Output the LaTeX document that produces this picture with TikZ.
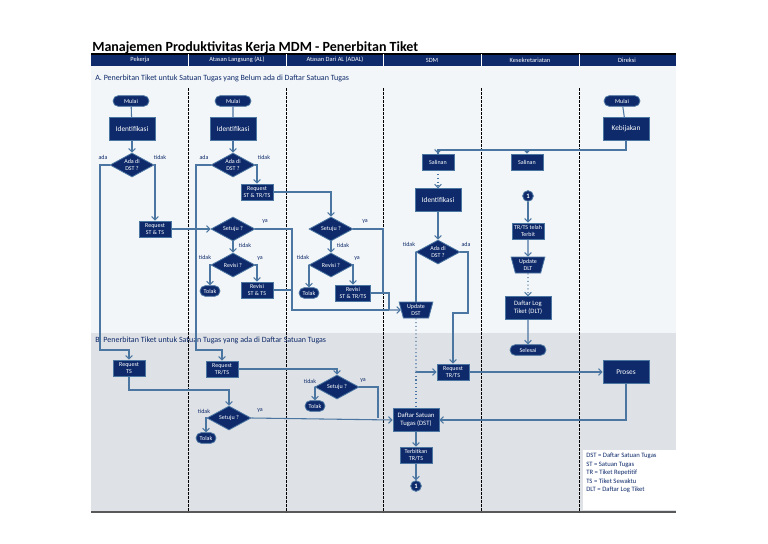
\documentclass[tikz,border=0pt]{standalone}
\usepackage{fontspec}
\setmainfont{Carlito}
\usetikzlibrary{shapes.geometric,shapes.misc,arrows.meta}
\definecolor{navy}{HTML}{0E2A6B}
\definecolor{ln}{HTML}{4C76A2}
\definecolor{bga}{HTML}{F3F6F8}
\definecolor{bgb}{HTML}{DEE1E5}
\begin{document}
\begin{tikzpicture}[x=0.75pt,y=-0.75pt,
 box/.style={draw=ln,fill=navy,text=white,font=\fontsize{4.5}{5}\selectfont,align=center,inner sep=1pt,line width=0.6pt},
 proc/.style={box,minimum width=34.5pt,minimum height=17pt,font=\fontsize{5.5}{6.5}\selectfont},
 small/.style={box,minimum width=24pt,minimum height=12pt},
 term/.style={box,rounded rectangle,minimum width=28pt,minimum height=8pt,inner sep=0.5pt},
 dia/.style={box,diamond,aspect=1.9,minimum width=33pt,minimum height=18pt,inner sep=0pt},
 trap/.style={box,trapezium,shape border rotate=180,trapezium left angle=75,trapezium right angle=75,minimum width=24pt,minimum height=12pt,inner sep=0.5pt},
 circ/.style={box,circle,minimum size=8pt,inner sep=0pt,font=\bfseries\fontsize{5}{5}\selectfont},
 ed/.style={draw=ln,line width=0.8pt},
 ar/.style={ed,-{Straight Barb[length=2.5pt,width=5pt]}},
 lab/.style={text=navy,font=\fontsize{4.5}{5}\selectfont,inner sep=0.5pt},
 hd/.style={text=white,font=\fontsize{4.8}{5}\selectfont},
 lane/.style={black,dashed,line width=0.5pt,dash pattern=on 2pt off 1pt}]
\useasboundingbox (0,0) rectangle (768,543);
\fill[white] (0,0) rectangle (768,543);
% backgrounds
\fill[bga] (91,66) rectangle (676,333);
\fill[bgb] (91,333) rectangle (676,512);
\fill[navy] (91,54) rectangle (676,66);
\draw[gray!70!black,line width=1pt] (91,512) -- (676,512);
\draw[black,line width=0.8pt] (91,54) -- (676,54);
\node[anchor=south west,inner sep=0pt,font=\bfseries\fontsize{10.5}{11}\selectfont] (title) at (92,54) {Manajemen Produktivitas Kerja MDM - Penerbitan Tiket};
\foreach \x in {188,286,383,481,579}{
 \draw[white,line width=0.5pt] (\x,54) -- (\x,66);
 \draw[lane] (\x,88) -- (\x,512);}
\node[hd] (h1) at (140,60) {Pekerja};
\node[hd] (h2) at (237,60) {Atasan Langsung (AL)};
\node[hd] (h3) at (335,60) {Atasan Dari AL (ADAL)};
\node[hd] (h4) at (432,60) {SDM};
\node[hd] (h5) at (530,60) {Kesekretariatan};
\node[hd] (h6) at (627,60) {Direksi};
\node[anchor=west,text=navy,font=\fontsize{6}{7}\selectfont,inner sep=0pt] (secA) at (95,78) {A. Penerbitan Tiket untuk Satuan Tugas yang Belum ada di Daftar Satuan Tugas};
\node[anchor=west,text=navy,font=\fontsize{6}{7}\selectfont,inner sep=0pt] (secB) at (95,340) {B. Penerbitan Tiket untuk Satuan Tugas yang ada di Daftar Satuan Tugas};
% legend
\fill[white] (583,450) rectangle (676,510);
\node[anchor=north west,text=navy,font=\fontsize{5}{6.3}\selectfont,align=left,inner sep=0pt] (leg) at (586,453) {DST = Daftar Satuan Tugas\\ST = Satuan Tugas\\TR = Tiket Repetitif\\TS = Tiket Sewaktu\\DLT = Daftar Log Tiket};
% Section A nodes
\node[term] (m1) at (131,101) {Mulai};
\node[proc] (i1) at (132,129) {Identifikasi};
\node[dia] (d1) at (132,165) {Ada di\\DST ?};
\node[small] (r1) at (155,229) {Request\\ST \& TS};
\node[term] (m2) at (233,101) {Mulai};
\node[proc] (i2) at (233,129) {Identifikasi};
\node[dia] (d2) at (233,165) {Ada di\\DST ?};
\node[small] (r2) at (257,192) {Request\\ST \& TR/TS};
\node[dia] (s1) at (233,229) {Setuju ?};
\node[dia] (v1) at (233,265) {Revisi ?};
\node[term,minimum width=16pt] (t1) at (210,291) {Tolak};
\node[small] (rv1) at (257,290) {Revisi\\ST \& TS};
\node[dia] (s2) at (331,229) {Setuju ?};
\node[dia] (v2) at (331,265) {Revisi ?};
\node[term,minimum width=16pt] (t2) at (309,293) {Tolak};
\node[small,minimum width=26pt] (rv2) at (353,293) {Revisi\\ST \& TR/TS};
\node[term] (m3) at (622,101) {Mulai};
\node[proc] (kb) at (626,129) {Kebijakan};
\node[small] (sl1) at (438,162) {Salinan};
\node[small] (sl2) at (527,162) {Salinan};
\node[proc] (i3) at (438,200) {Identifikasi};
\node[dia] (d3) at (438,252) {Ada di\\DST ?};
\node[trap] (ud) at (416,310) {Update\\DST};
\node[circ] (c1) at (528,196) {1};
\node[small] (tt) at (528,231) {TR/TS telah\\Terbit};
\node[trap] (udl) at (528,265) {Update\\DLT};
\node[proc,font=\fontsize{5}{6}\selectfont] (dlt) at (528,308) {Daftar Log\\Tiket (DLT)};
\node[term] (sel) at (528,350) {Selesai};
% Section B nodes
\node[small] (rb1) at (129,368) {Request\\TS};
\node[small] (rb2) at (222,369) {Request\\TR/TS};
\node[dia] (sb2) at (337,387) {Setuju ?};
\node[term,minimum width=16pt] (tb2) at (315,406) {Tolak};
\node[dia] (sb1) at (229,418) {Setuju ?};
\node[term,minimum width=16pt] (tb1) at (206,438) {Tolak};
\node[small] (rb3) at (453,372) {Request\\TR/TS};
\node[proc] (pr) at (626,372) {Proses};
\node[proc,font=\fontsize{5}{6}\selectfont] (dst) at (416,420) {Daftar Satuan\\Tugas (DST)};
\node[small] (tb) at (416,455) {Terbitkan\\TR/TS};
\node[circ] (c2) at (416,486) {1};
% connectors
\draw[ed] (m1) -- (i1); \draw[ar] (i1) -- (d1);
\draw[ed] (m2) -- (i2); \draw[ar] (i2) -- (d2);
\draw[ed] (m3) -- (kb);
\draw[ar] (d1.east) -| (r1.north);
\node[lab] at (160,157) {tidak};
\draw[ar] (d1.west) -- (100,165) |- (129,350) -- (rb1.north);
\node[lab] at (103,157) {ada};
\draw[ar] (d2.east) -| (r2.north);
\node[lab] at (264,157) {tidak};
\draw[ar] (d2.west) -- (196,165) |- (222,350) -- (rb2.north);
\node[lab] at (204,157) {ada};
\draw[ar] (r1.east) -- (s1.west);
\draw[ar] (r2.east) -| (s2.north);
\draw[ar] (s1.south) -- (v1.north); \node[lab] at (245,245) {tidak};
\draw[ar] (s2.south) -- (v2.north); \node[lab] at (343,245) {tidak};
\draw[ar] (v1.west) -| (t1.north); \node[lab] at (205,257) {tidak};
\draw[ar] (v1.east) -| (rv1.north); \node[lab] at (260,259) {ya};
\draw[ar] (v2.west) -| (t2.north); \node[lab] at (303,257) {tidak};
\draw[ar] (v2.east) -| (rv2.north); \node[lab] at (357,259) {ya};
\draw[ed] (s1.east) -- (292,229) |- (389,310);
\node[lab] at (265,222) {ya};
\draw[ed] (rv1.east) -- (292,290);
\draw[ed] (s2.east) -- (383,229) -- (383,293);
\node[lab] at (365,222) {ya};
\draw[ed] (rv2.east) -| (389,310);
\draw[ar] (389,310) -- (ud.west);
\draw[ed] (kb.south) -- (626,150) -| (sl1.north);
\draw[ar] (438,150) -- (sl1.north);
\draw[ar] (527,150) -- (sl2.north);
\draw[ar,dotted] (sl1.south) -- (i3.north);
\draw[ar] (i3) -- (d3);
\draw[ed] (d3.west) -| (ud.north); \node[lab] at (409,244) {tidak};
\draw[ar] (d3.east) -- (468,252) |- (453,313) -- (rb3.north); \node[lab] at (466,244) {ada};
\draw[ed,dotted] (ud.south) -- (416,372);
\draw[ar] (416,372) -- (rb3.west);
\draw[ed,dotted] (416,372) -- (dst.north);
\draw[ar] (c1) -- (tt); \draw[ar] (tt) -- (udl);
\draw[ar,dotted] (udl) -- (dlt);
\draw[ar] (dlt) -- (sel);
\draw[ar] (rb1.south) |- (229,390) -- (sb1.north);
\draw[ar] (sb1.west) -| (tb1.north); \node[lab] at (204,411) {tidak};
\draw[ar] (sb1.east) -- (dst.west); \node[lab] at (260,411) {ya};
\draw[ar] (rb2.east) -| (sb2.north);
\draw[ar] (sb2.west) -| (tb2.north); \node[lab] at (310,381) {tidak};
\draw[ed] (sb2.east) -| (378,418); \node[lab] at (363,381) {ya};
\draw[ar] (pr.south) |- (dst.east);
\draw[ar] (rb3.east) -- (pr.west);
\draw[ar] (dst) -- (tb); \draw[ar] (tb) -- (c2);
\end{tikzpicture}
\end{document}
